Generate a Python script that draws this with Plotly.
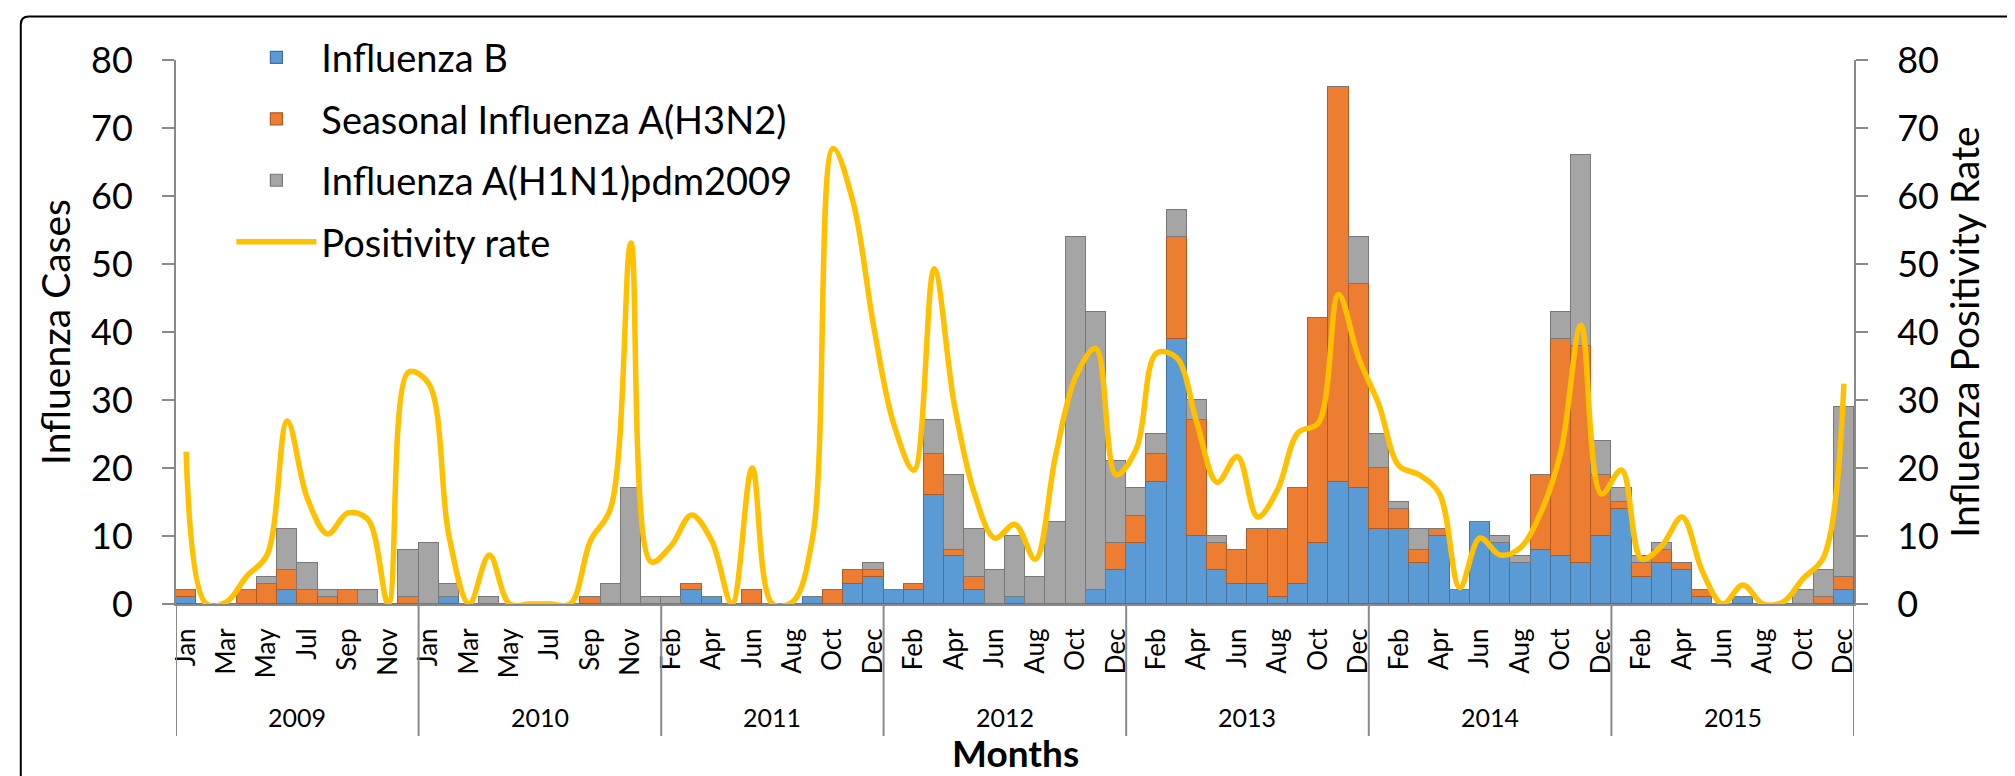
import plotly.graph_objects as go

# ---------------- data ----------------
years = ["2009", "2010", "2011", "2012", "2013", "2014", "2015"]
all_months = ["Jan", "Feb", "Mar", "Apr", "May", "Jun",
              "Jul", "Aug", "Sep", "Oct", "Nov", "Dec"]
months_by_year = [
    all_months,          # 2009
    all_months,          # 2010
    all_months[1:],      # 2011 (no January)
    all_months,          # 2012
    all_months,          # 2013
    all_months,          # 2014
    all_months,          # 2015
]

influenza_b = [
    1, 0, 0, 0, 0, 2, 0, 0, 0, 0, 0, 0,          # 2009
    0, 1, 0, 0, 0, 0, 0, 0, 0, 0, 0, 0,          # 2010
    0, 2, 1, 0, 0, 0, 0, 1, 0, 3, 4,             # 2011
    2, 2, 16, 7, 2, 0, 1, 0, 0, 0, 2, 5,         # 2012
    9, 18, 39, 10, 5, 3, 3, 1, 3, 9, 18, 17,     # 2013
    11, 11, 6, 10, 2, 12, 9, 6, 8, 7, 6, 10,     # 2014
    14, 4, 6, 5, 1, 0, 1, 0, 0, 0, 0, 2,         # 2015
]
h3n2 = [
    1, 0, 0, 2, 3, 3, 2, 1, 2, 0, 0, 1,
    0, 0, 0, 0, 0, 0, 0, 0, 1, 0, 0, 0,
    0, 1, 0, 0, 2, 0, 0, 0, 2, 2, 1,
    0, 1, 6, 1, 2, 0, 0, 0, 0, 0, 0, 4,
    4, 4, 15, 17, 4, 5, 8, 10, 14, 33, 58, 30,
    9, 3, 2, 1, 0, 0, 0, 0, 11, 32, 32, 9,
    1, 2, 2, 1, 1, 0, 0, 0, 0, 0, 1, 2,
]
h1n1 = [
    0, 0, 0, 0, 1, 6, 4, 1, 0, 2, 0, 7,
    9, 2, 0, 1, 0, 0, 0, 0, 0, 3, 17, 1,
    1, 0, 0, 0, 0, 0, 0, 0, 0, 0, 1,
    0, 0, 5, 11, 7, 5, 9, 4, 12, 54, 41, 12,
    4, 3, 4, 3, 1, 0, 0, 0, 0, 0, 0, 7,
    5, 1, 3, 0, 0, 0, 1, 1, 0, 4, 28, 5,
    2, 1, 1, 0, 0, 0, 0, 0, 0, 2, 4, 25,
]
positivity = [
    22.4, 0, 0.3, 4.1, 7.2, 26.9, 15.5, 10.3, 13.4, 12.4, 0, 34.1,
    32.4, 10, 0, 7.2, 0, 0, 0, 0, 9.3, 14.1, 53.1, 6.2,
    8.6, 13.1, 9.3, 0, 20, 0, 0.3, 10, 67, 59, 41,
    26.5, 19.7, 49.3, 29.3, 16.2, 9.7, 11.7, 6.6, 21.7, 33.4, 37.6, 19,
    22.8, 36.9, 36.2, 26.6, 17.9, 21.7, 12.8, 16.9, 25.2, 26.6, 45.5, 36.2,
    29.3, 20.3, 19, 16.2, 2.4, 9.7, 7.2, 8.3, 13.4, 22.4, 41, 16.2,
    19.7, 6.6, 8.6, 12.8, 4.8, 0, 2.8, 0, 0.3, 3.8, 6.9, 32.4,
]

series_names = ["Influenza B", "Seasonal Influenza A(H3N2)",
                "Influenza A(H1N1)pdm2009", "Positivity rate"]
y_ticks = [0, 10, 20, 30, 40, 50, 60, 70, 80]

# ---------------- derived categories ----------------
categories = [f"{m} {y}" for y, ms in zip(years, months_by_year) for m in ms]
tick_vals = categories[::2]
tick_text = [c.split()[0] for c in tick_vals]

# ---------------- style ----------------
FONT = "Lato, Carlito, Calibri, sans-serif"
AXIS_GRAY = "#898989"
colors = ["#5B9BD5", "#ED7D31", "#A5A5A5"]
edges = ["#41719C", "#AE5A21", "#787878"]

fig = go.Figure()
for name, vals, c, e in zip(series_names[:3], [influenza_b, h3n2, h1n1], colors, edges):
    fig.add_trace(go.Bar(
        x=categories, y=vals, name=name, legendgroup=name,
        marker=dict(color=c, line=dict(color=e, width=1.2)),
    ))
fig.add_trace(go.Scatter(
    x=categories, y=positivity, name=series_names[3], legendgroup=series_names[3],
    yaxis="y2", mode="lines",
    line=dict(color="#FFC000", width=5.5, shape="spline", smoothing=1.0),
))

# year dividers and year labels (positions from category counts)
shapes = []
annotations = []
start = 0
bounds = [-0.5]
for y, ms in zip(years, months_by_year):
    n = len(ms)
    annotations.append(dict(
        x=start + (n - 1) / 2, y=-0.208, xref="x", yref="paper",
        text=y, showarrow=False, xanchor="center", yanchor="middle",
        font=dict(family=FONT, size=25, color="black"),
    ))
    start += n
    bounds.append(start - 0.5)
for b in bounds:
    shapes.append(dict(type="line", xref="x", yref="paper",
                       x0=b, x1=b, y0=0, y1=-0.2426,
                       line=dict(color=AXIS_GRAY, width=2)))

annotations.append(dict(
    x=0.5, y=-0.2735, xref="paper", yref="paper", text="<b>Months</b>",
    showarrow=False, xanchor="center", yanchor="middle",
    font=dict(family=FONT, size=37, color="black"),
))

# outer frame with rounded top corners
x0, x1, yt, yb = -0.0925, 1.0989, 1.08, -0.5
rx, ry = 0.0048, 0.0147
shapes.append(dict(
    type="path", xref="paper", yref="paper",
    path=(f"M{x0},{yb} L{x0},{yt-ry} Q{x0},{yt} {x0+rx},{yt} "
          f"L{x1-rx},{yt} Q{x1},{yt} {x1},{yt-ry} L{x1},{yb}"),
    line=dict(color="black", width=2),
))

axis_common = dict(
    range=[0, 80], tickvals=y_ticks, showline=True, linecolor=AXIS_GRAY,
    linewidth=2, ticks="outside", ticklen=12, tickwidth=2, tickcolor=AXIS_GRAY,
    tickfont=dict(family=FONT, size=36, color="black"), showgrid=False,
    zeroline=False, ticklabelstandoff=22,
)

fig.update_layout(
    width=2015, height=776,
    margin=dict(l=168, r=169, t=52, b=180, autoexpand=False),
    paper_bgcolor="white", plot_bgcolor="white",
    barmode="stack", bargap=0,
    font=dict(family=FONT, color="black"),
    xaxis=dict(
        type="category", categoryorder="array", categoryarray=categories,
        range=[-0.5, len(categories) - 0.5],
        tickmode="array", tickvals=tick_vals, ticktext=tick_text,
        tickangle=-90, ticks="", showline=True, linecolor=AXIS_GRAY,
        linewidth=2, showgrid=False, zeroline=False,
        tickfont=dict(family=FONT, size=26, color="black"),
        ticklabelstandoff=12,
    ),
    yaxis=dict(**axis_common,
               title=dict(text="Influenza Cases", standoff=8,
                          font=dict(family=FONT, size=39, color="black"))),
    yaxis2=dict(**axis_common, overlaying="y", side="right",
                title=dict(text="Influenza Positivity Rate", standoff=14,
                           font=dict(family=FONT, size=39, color="black"))),
    legend=dict(
        x=0.033, y=1.062, xanchor="left", yanchor="top",
        traceorder="grouped", tracegroupgap=9, itemwidth=80,
        bgcolor="rgba(0,0,0,0)",
        font=dict(family=FONT, size=38, color="black"),
    ),
    shapes=shapes,
    annotations=annotations,
)

fig.write_html("out.html")
